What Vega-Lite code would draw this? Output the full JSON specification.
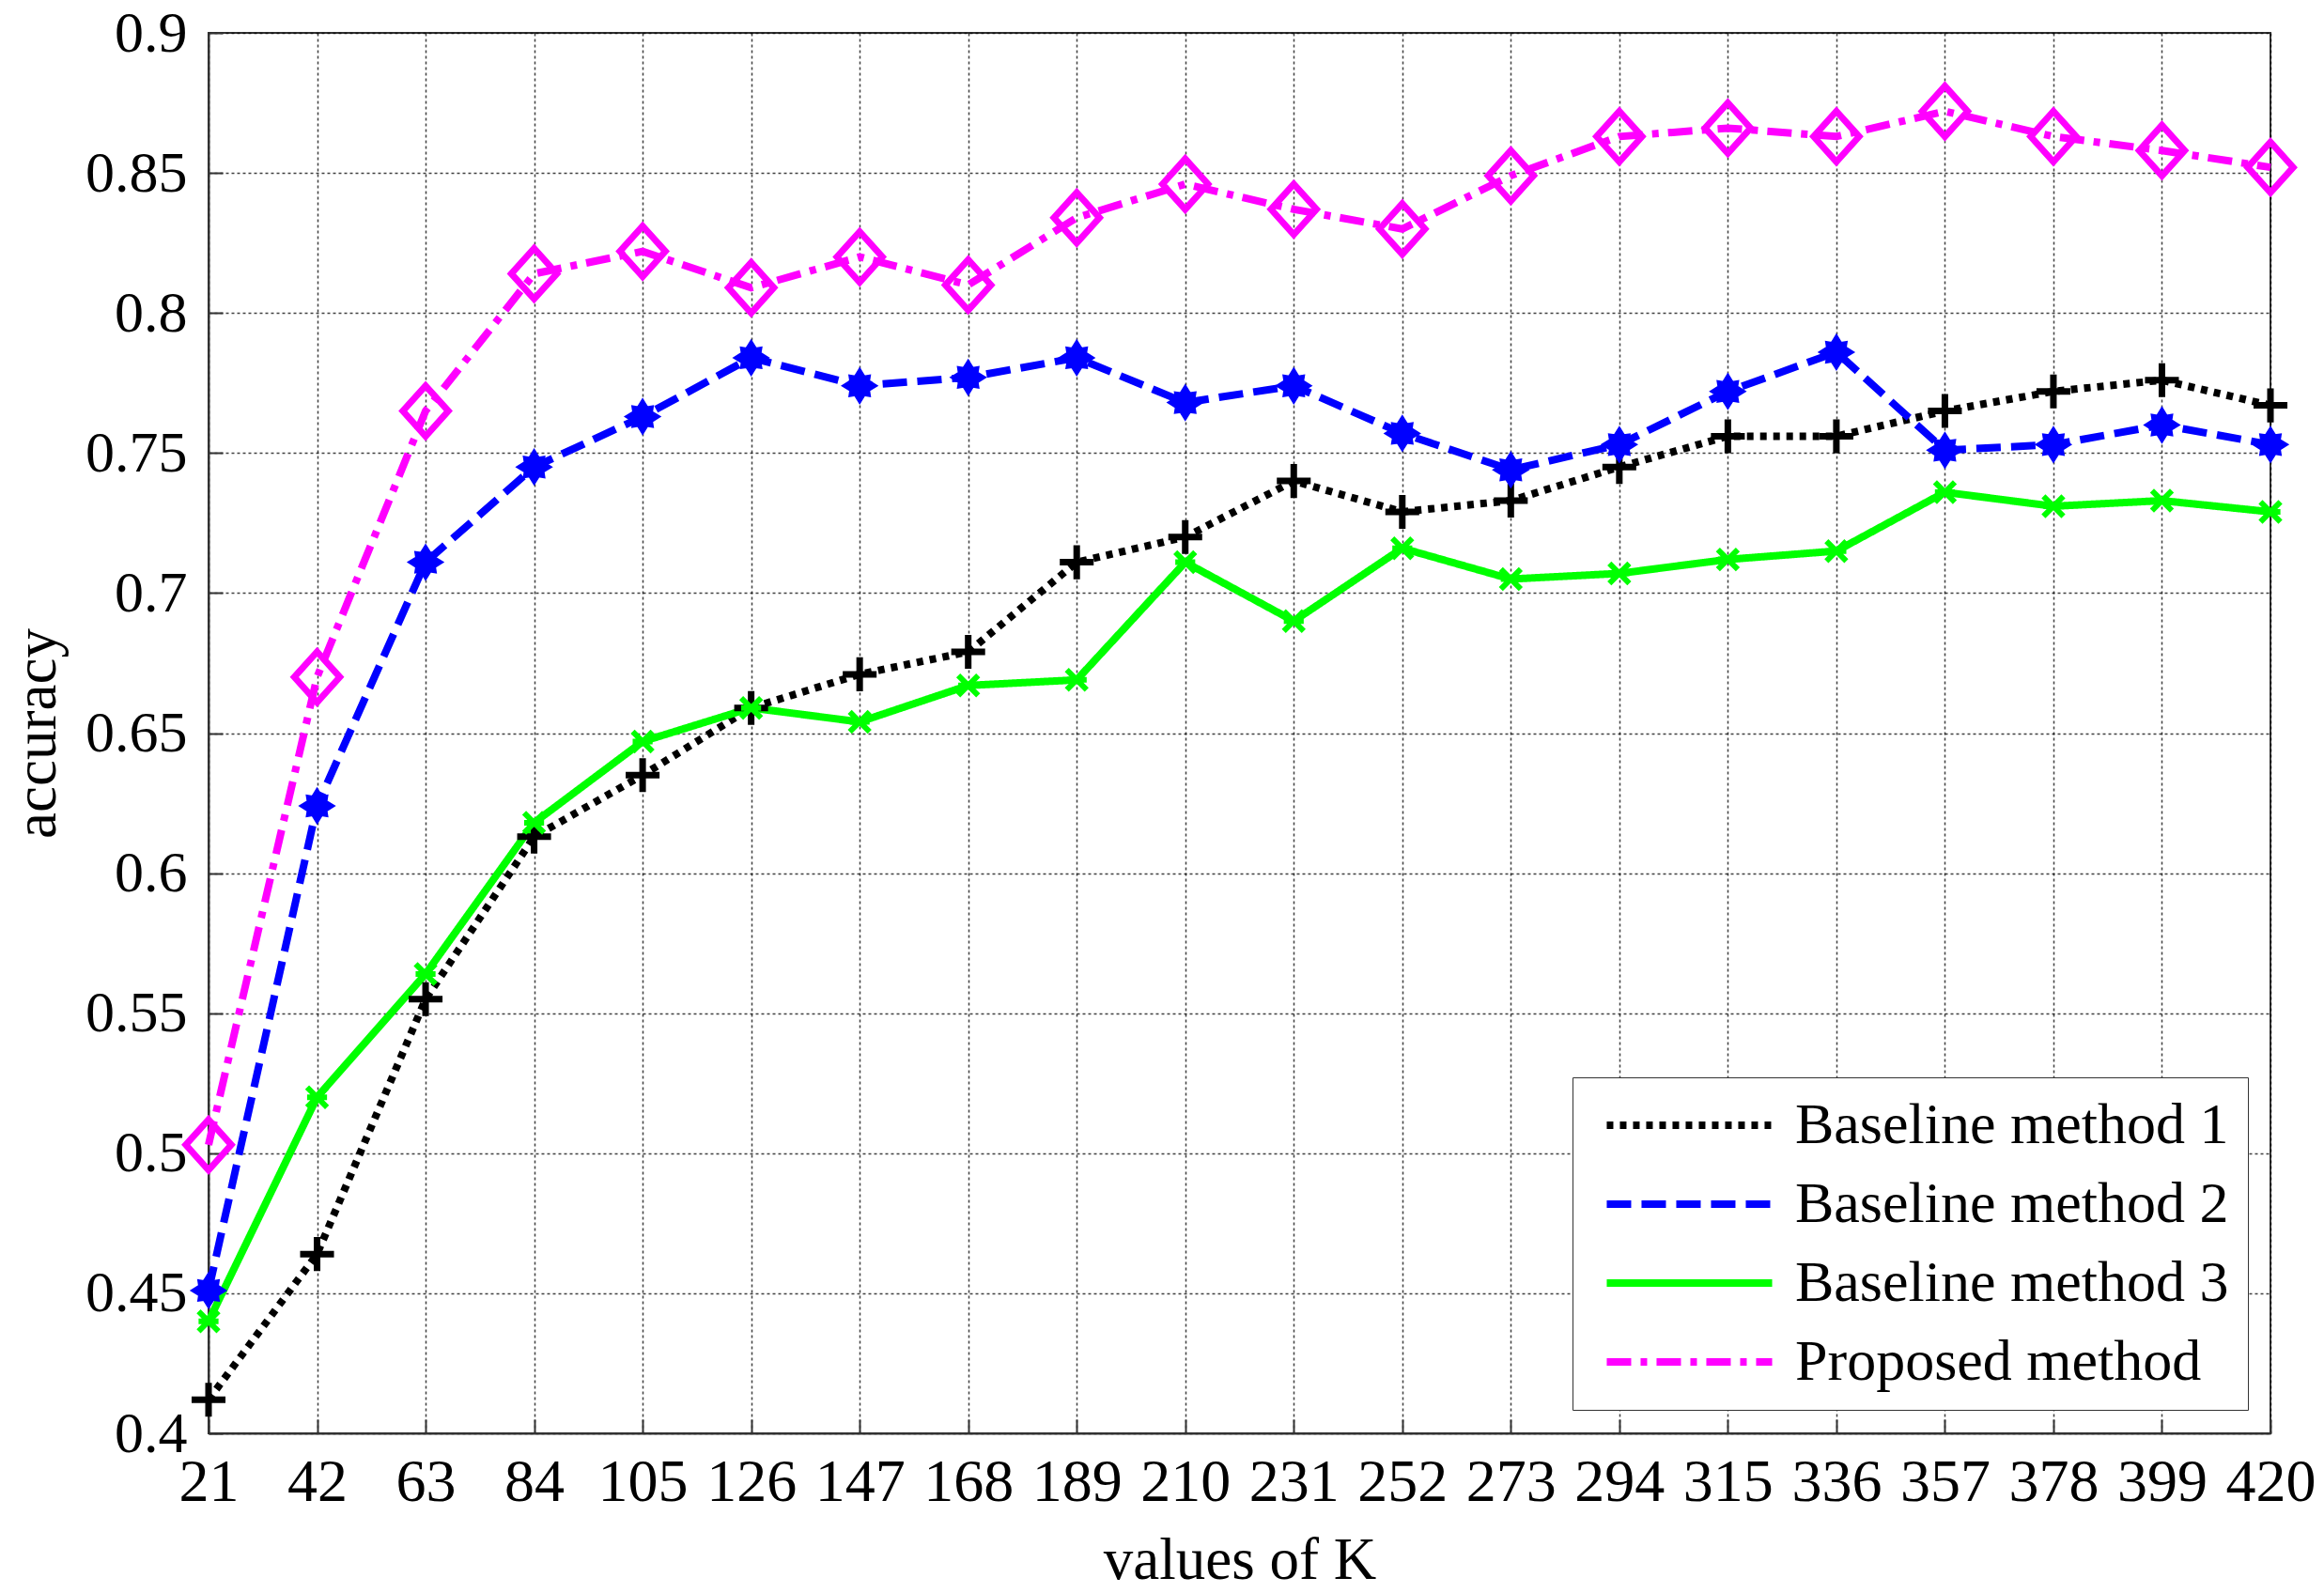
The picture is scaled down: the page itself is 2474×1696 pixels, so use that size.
{
  "$schema": "https://vega.github.io/schema/vega-lite/v6.json",
  "autosize": {"type": "none"},
  "padding": {"left": 222, "top": 35, "right": 57, "bottom": 170},
  "width": 2195,
  "height": 1491,
  "background": "white",
  "config": {
    "font": "Liberation Serif",
    "view": {"stroke": "#333333", "strokeWidth": 2},
    "axis": {
      "labelFont": "Liberation Serif",
      "titleFont": "Liberation Serif",
      "labelColor": "black",
      "titleColor": "black",
      "labelFontSize": 64,
      "titleFontSize": 63,
      "titleFontWeight": "normal",
      "domainColor": "#333333",
      "domainWidth": 2,
      "ticks": true,
      "tickSize": -15,
      "tickColor": "#333333",
      "tickWidth": 2,
      "grid": true,
      "gridColor": "black",
      "gridDash": [3, 3],
      "gridWidth": 1.5,
      "gridOpacity": 0.75
    },
    "legend": {
      "labelFont": "Liberation Serif",
      "labelFontSize": 62,
      "labelColor": "black"
    }
  },
  "data": {
    "values": [
      {"K": 21, "series": "Baseline method 1", "acc": 0.412},
      {"K": 42, "series": "Baseline method 1", "acc": 0.464},
      {"K": 63, "series": "Baseline method 1", "acc": 0.555},
      {"K": 84, "series": "Baseline method 1", "acc": 0.613},
      {"K": 105, "series": "Baseline method 1", "acc": 0.635},
      {"K": 126, "series": "Baseline method 1", "acc": 0.659},
      {"K": 147, "series": "Baseline method 1", "acc": 0.671},
      {"K": 168, "series": "Baseline method 1", "acc": 0.679},
      {"K": 189, "series": "Baseline method 1", "acc": 0.711},
      {"K": 210, "series": "Baseline method 1", "acc": 0.720},
      {"K": 231, "series": "Baseline method 1", "acc": 0.740},
      {"K": 252, "series": "Baseline method 1", "acc": 0.729},
      {"K": 273, "series": "Baseline method 1", "acc": 0.733},
      {"K": 294, "series": "Baseline method 1", "acc": 0.745},
      {"K": 315, "series": "Baseline method 1", "acc": 0.756},
      {"K": 336, "series": "Baseline method 1", "acc": 0.756},
      {"K": 357, "series": "Baseline method 1", "acc": 0.765},
      {"K": 378, "series": "Baseline method 1", "acc": 0.772},
      {"K": 399, "series": "Baseline method 1", "acc": 0.776},
      {"K": 420, "series": "Baseline method 1", "acc": 0.767},
      {"K": 21, "series": "Baseline method 2", "acc": 0.451},
      {"K": 42, "series": "Baseline method 2", "acc": 0.624},
      {"K": 63, "series": "Baseline method 2", "acc": 0.711},
      {"K": 84, "series": "Baseline method 2", "acc": 0.745},
      {"K": 105, "series": "Baseline method 2", "acc": 0.763},
      {"K": 126, "series": "Baseline method 2", "acc": 0.784},
      {"K": 147, "series": "Baseline method 2", "acc": 0.774},
      {"K": 168, "series": "Baseline method 2", "acc": 0.777},
      {"K": 189, "series": "Baseline method 2", "acc": 0.784},
      {"K": 210, "series": "Baseline method 2", "acc": 0.768},
      {"K": 231, "series": "Baseline method 2", "acc": 0.774},
      {"K": 252, "series": "Baseline method 2", "acc": 0.757},
      {"K": 273, "series": "Baseline method 2", "acc": 0.744},
      {"K": 294, "series": "Baseline method 2", "acc": 0.753},
      {"K": 315, "series": "Baseline method 2", "acc": 0.772},
      {"K": 336, "series": "Baseline method 2", "acc": 0.786},
      {"K": 357, "series": "Baseline method 2", "acc": 0.751},
      {"K": 378, "series": "Baseline method 2", "acc": 0.753},
      {"K": 399, "series": "Baseline method 2", "acc": 0.760},
      {"K": 420, "series": "Baseline method 2", "acc": 0.753},
      {"K": 21, "series": "Baseline method 3", "acc": 0.440},
      {"K": 42, "series": "Baseline method 3", "acc": 0.520},
      {"K": 63, "series": "Baseline method 3", "acc": 0.564},
      {"K": 84, "series": "Baseline method 3", "acc": 0.618},
      {"K": 105, "series": "Baseline method 3", "acc": 0.647},
      {"K": 126, "series": "Baseline method 3", "acc": 0.659},
      {"K": 147, "series": "Baseline method 3", "acc": 0.654},
      {"K": 168, "series": "Baseline method 3", "acc": 0.667},
      {"K": 189, "series": "Baseline method 3", "acc": 0.669},
      {"K": 210, "series": "Baseline method 3", "acc": 0.711},
      {"K": 231, "series": "Baseline method 3", "acc": 0.690},
      {"K": 252, "series": "Baseline method 3", "acc": 0.716},
      {"K": 273, "series": "Baseline method 3", "acc": 0.705},
      {"K": 294, "series": "Baseline method 3", "acc": 0.707},
      {"K": 315, "series": "Baseline method 3", "acc": 0.712},
      {"K": 336, "series": "Baseline method 3", "acc": 0.715},
      {"K": 357, "series": "Baseline method 3", "acc": 0.736},
      {"K": 378, "series": "Baseline method 3", "acc": 0.731},
      {"K": 399, "series": "Baseline method 3", "acc": 0.733},
      {"K": 420, "series": "Baseline method 3", "acc": 0.729},
      {"K": 21, "series": "Proposed method", "acc": 0.503},
      {"K": 42, "series": "Proposed method", "acc": 0.670},
      {"K": 63, "series": "Proposed method", "acc": 0.765},
      {"K": 84, "series": "Proposed method", "acc": 0.814},
      {"K": 105, "series": "Proposed method", "acc": 0.822},
      {"K": 126, "series": "Proposed method", "acc": 0.809},
      {"K": 147, "series": "Proposed method", "acc": 0.820},
      {"K": 168, "series": "Proposed method", "acc": 0.810},
      {"K": 189, "series": "Proposed method", "acc": 0.834},
      {"K": 210, "series": "Proposed method", "acc": 0.846},
      {"K": 231, "series": "Proposed method", "acc": 0.837},
      {"K": 252, "series": "Proposed method", "acc": 0.830},
      {"K": 273, "series": "Proposed method", "acc": 0.849},
      {"K": 294, "series": "Proposed method", "acc": 0.863},
      {"K": 315, "series": "Proposed method", "acc": 0.866},
      {"K": 336, "series": "Proposed method", "acc": 0.863},
      {"K": 357, "series": "Proposed method", "acc": 0.872},
      {"K": 378, "series": "Proposed method", "acc": 0.863},
      {"K": 399, "series": "Proposed method", "acc": 0.858},
      {"K": 420, "series": "Proposed method", "acc": 0.852}
    ]
  },
  "encoding": {
    "x": {
      "field": "K",
      "type": "quantitative",
      "scale": {"domain": [21, 420], "nice": false, "zero": false},
      "axis": {
        "values": [21, 42, 63, 84, 105, 126, 147, 168, 189, 210, 231, 252, 273, 294, 315, 336, 357, 378, 399, 420],
        "title": "values of K",
        "labelPadding": 35,
        "titlePadding": 20,
        "labelFlush": false,
        "labelOverlap": false
      }
    },
    "y": {
      "field": "acc",
      "type": "quantitative",
      "scale": {"domain": [0.4, 0.9], "nice": false, "zero": false},
      "axis": {
        "values": [0.4, 0.45, 0.5, 0.55, 0.6, 0.65, 0.7, 0.75, 0.8, 0.85, 0.9],
        "format": ".2~f",
        "title": "accuracy",
        "labelFontSize": 62,
        "labelPadding": 38,
        "titlePadding": 19,
        "labelFlush": false,
        "labelOverlap": false
      }
    }
  },
  "layer": [
    {
      "mark": {"type": "line", "strokeWidth": 8, "strokeCap": "butt"},
      "encoding": {
        "color": {
          "field": "series",
          "type": "nominal",
          "scale": {
            "domain": ["Baseline method 1", "Baseline method 2", "Baseline method 3", "Proposed method"],
            "range": ["#000000", "#0000ff", "#00ff00", "#ff00ff"]
          },
          "legend": {
            "title": null,
            "orient": "none",
            "legendX": 1452,
            "legendY": 1112,
            "symbolType": "stroke",
            "symbolSize": 31000,
            "symbolStrokeWidth": 8,
            "symbolOffset": 12,
            "labelOffset": 20,
            "rowPadding": 22,
            "padding": 20,
            "strokeColor": "#333333",
            "fillColor": "white",
            "labelLimit": 800,
            "encode": {
              "symbols": {"update": {"y": {"value": 31}}},
              "labels": {"update": {"y": {"value": 31}}}
            }
          }
        },
        "strokeDash": {
          "field": "series",
          "type": "nominal",
          "scale": {
            "domain": ["Baseline method 1", "Baseline method 2", "Baseline method 3", "Proposed method"],
            "range": [[7, 7], [26, 11], [1, 0], [26, 10, 7, 10]]
          },
          "legend": {
            "title": null,
            "orient": "none",
            "legendX": 1452,
            "legendY": 1112,
            "symbolType": "stroke",
            "symbolSize": 31000,
            "symbolStrokeWidth": 8,
            "symbolOffset": 12,
            "labelOffset": 20,
            "rowPadding": 22,
            "padding": 20,
            "strokeColor": "#333333",
            "fillColor": "white",
            "labelLimit": 800,
            "encode": {
              "symbols": {"update": {"y": {"value": 31}}},
              "labels": {"update": {"y": {"value": 31}}}
            }
          }
        }
      }
    },
    {
      "transform": [{"filter": "datum.series === 'Baseline method 1'"}],
      "mark": {"type": "point", "shape": "M-1,0L1,0M0,-1L0,1", "filled": false, "stroke": "black", "strokeWidth": 7, "size": 1300, "opacity": 1}
    },
    {
      "transform": [{"filter": "datum.series === 'Baseline method 2'"}],
      "mark": {"type": "point", "shape": "M0,-1L0.28,-0.55L0.6,-0.6L0.55,-0.28L1,0L0.55,0.28L0.6,0.6L0.28,0.55L0,1L-0.28,0.55L-0.6,0.6L-0.55,0.28L-1,0L-0.55,-0.28L-0.6,-0.6L-0.28,-0.55Z", "filled": true, "fill": "#0000ff", "stroke": "#0000ff", "strokeWidth": 3, "size": 1200, "opacity": 1}
    },
    {
      "transform": [{"filter": "datum.series === 'Baseline method 3'"}],
      "mark": {"type": "point", "shape": "M-1,-1L1,1M-1,1L1,-1M-1,0L1,0", "filled": false, "stroke": "#00ff00", "strokeWidth": 6, "size": 450, "opacity": 1}
    },
    {
      "transform": [{"filter": "datum.series === 'Proposed method'"}],
      "mark": {"type": "point", "shape": "M-0.9,0L0,-1L0.9,0L0,1Z", "filled": false, "stroke": "#ff00ff", "strokeWidth": 7, "size": 2900, "opacity": 1}
    }
  ]
}
